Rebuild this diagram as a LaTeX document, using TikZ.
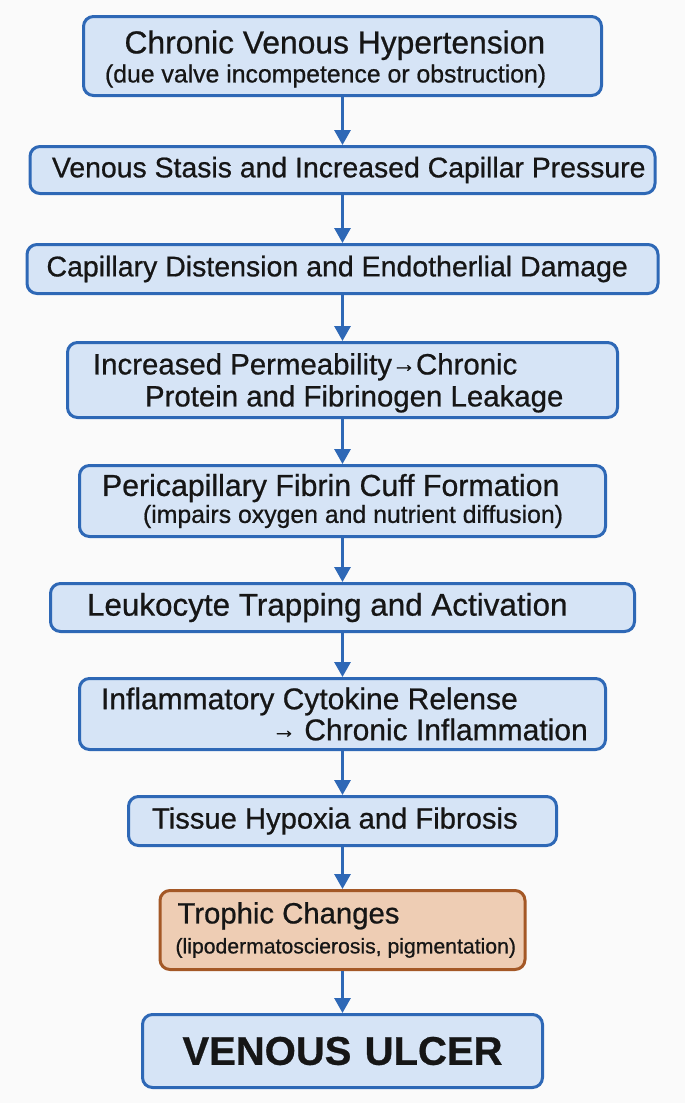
\documentclass[tikz,border=0pt]{standalone}
\usepackage{fontspec}
\setmainfont{Liberation Sans}[FakeBold=0.7]
\usetikzlibrary{arrows.meta}
\definecolor{veinblue}{RGB}{46,104,182}
\definecolor{veinfill}{RGB}{214,228,246}
\definecolor{skinbrown}{RGB}{164,88,38}
\definecolor{skinfill}{RGB}{238,205,180}
\definecolor{inkblack}{RGB}{22,22,22}
\newcommand{\fsz}[2]{\fontsize{#1}{#2}\selectfont}
\newcommand{\smallto}{\raisebox{2.5pt}{\fsz{24}{24}→}}

\tikzset{
    stage/.style={draw=veinblue, fill=veinfill, line width=3pt, rounded corners=10pt,
        inner xsep=0pt, inner ysep=0pt, align=flush left, text=inkblack},
    flow/.style={-{Triangle[width=16pt,length=15pt]}, veinblue, line width=3pt}
}

\begin{document}
\begin{tikzpicture}[x=1pt, y=-1pt]
    \fill[white!98!black] (0,0) rectangle (685,1103);

    \node[stage, minimum width=518pt, minimum height=79pt, text width=518pt, font=\fsz{31.8}{29}] (hypert) at (342.5,56)
        {\rule{0pt}{29pt}\hspace*{41pt}Chronic Venous Hypertension\\\hspace*{21.5pt}{\fsz{24.8}{29}(due valve incompetence or obstruction)}};
    \node[stage, minimum width=625pt, minimum height=47pt, text width=625pt, font=\fsz{28.4}{30}] (stasis) at (342.5,170)
        {\hspace*{22pt}Venous Stasis and Increased Capillar Pressure};
    \node[stage, minimum width=631pt, minimum height=49pt, text width=631pt, font=\fsz{28.5}{30}] (damage) at (342.5,269)
        {\hspace*{19.5pt}Capillary Distension and Endotherlial Damage};
    \node[stage, minimum width=550pt, minimum height=75pt, text width=550pt, font=\fsz{29.4}{32}] (leak) at (342.5,380)
        {\rule{0pt}{27pt}\hspace*{25.5pt}Increased Permeability\smallto Chronic\\\hspace*{77.5pt}Protein and Fibrinogen Leakage};
    \node[stage, minimum width=526pt, minimum height=71pt, text width=526pt, font=\fsz{30.3}{27}] (cuff) at (342.5,501)
        {\hspace*{22.5pt}Pericapillary Fibrin Cuff Formation\\\hspace*{63.5pt}{\fsz{24.8}{27}(impairs oxygen and nutrient diffusion)}};
    \node[stage, minimum width=584pt, minimum height=48pt, text width=584pt, font=\fsz{31.4}{30}] (trap) at (342.5,607.5)
        {\hspace*{36.5pt}Leukocyte Trapping and Activation};
    \node[stage, minimum width=526pt, minimum height=71pt, text width=526pt, font=\fsz{30}{31}] (cytokine) at (342.5,714)
        {\hspace*{21.5pt}Inflammatory Cytokine Relense\\\hspace*{192.5pt}\smallto\ Chronic Inflammation};
    \node[stage, minimum width=428pt, minimum height=49pt, text width=428pt, font=\fsz{29.2}{30}] (hypoxia) at (342.5,821)
        {\hspace*{23.5pt}Tissue Hypoxia and Fibrosis};
    \node[stage, draw=skinbrown, fill=skinfill, minimum width=365pt, minimum height=79pt, text width=365pt, font=\fsz{29.3}{30}] (trophic) at (342.5,930)
        {\hspace*{17.5pt}Trophic Changes\\\hspace*{15.5pt}{\fsz{21.2}{30}(lipodermatoscierosis, pigmentation)}};
    \node[stage, align=center, minimum width=400pt, minimum height=73pt, text width=400pt, font=\fsz{40}{40}\bfseries] (ulcer) at (342.5,1051)
        {VENOUS ULCER};

    \draw[flow] (hypert.south) -- (stasis.north);
    \draw[flow] (stasis.south) -- (damage.north);
    \draw[flow] (damage.south) -- (leak.north);
    \draw[flow] (leak.south) -- (cuff.north);
    \draw[flow] (cuff.south) -- (trap.north);
    \draw[flow] (trap.south) -- (cytokine.north);
    \draw[flow] (cytokine.south) -- (hypoxia.north);
    \draw[flow] (hypoxia.south) -- (trophic.north);
    \draw[flow] (trophic.south) -- (ulcer.north);
\end{tikzpicture}
\end{document}
